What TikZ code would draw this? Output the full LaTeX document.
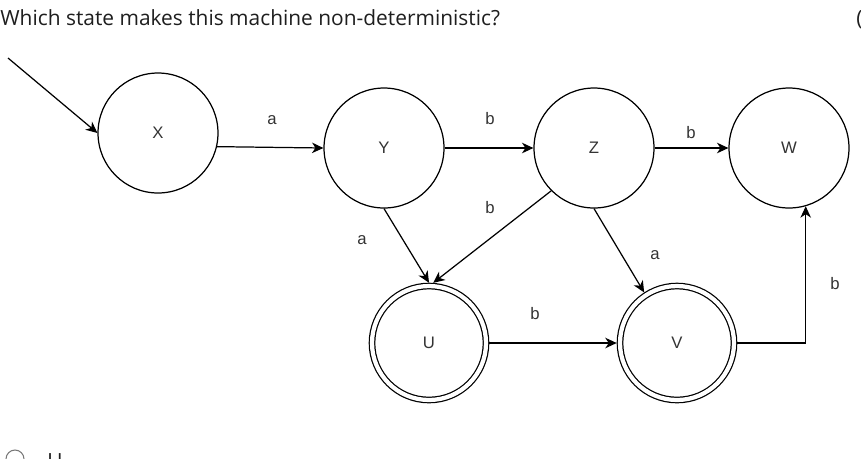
\documentclass[tikz,border=0pt]{standalone}
\usepackage{fontspec}
\setmainfont{Open Sans}
\newfontfamily\diagfont{Liberation Sans}
\usetikzlibrary{arrows.meta}
\definecolor{inkgray}{HTML}{333333}
\definecolor{radiogray}{HTML}{777777}
\definecolor{textblack}{HTML}{1E1E1E}
\begin{document}
\begin{tikzpicture}[x=0.02cm, y=-0.02cm,
  statenode/.style={draw, circle, line width=0.7pt, minimum size=2.4cm, inner sep=0pt,
    font=\diagfont\fontsize{9.5}{10}\selectfont, text=inkgray},
  acceptnode/.style={statenode, double, double distance=2.4pt, minimum size=2.28cm, outer sep=1.9pt},
  transition/.style={-{Stealth[length=6.5pt, width=6pt, inset=2pt]}, line width=0.7pt},
  lbl/.style={font=\diagfont\fontsize{9.5}{10}\selectfont, text=inkgray, inner sep=0pt},
  pagetext/.style={inner sep=0pt, font=\fontsize{11.9}{13}\selectfont, text=textblack}]
\useasboundingbox (0,0) rectangle (861,458);
\clip (0,0) rectangle (861,458);
\node[pagetext, anchor=base west] (question) at (0,25) {Which state makes this machine non-deterministic?};
\node[pagetext, anchor=base west] (points) at (856,25) {(};
\node[draw=radiogray, circle, line width=0.6pt, inner sep=0pt, minimum size=0.36cm] (radio) at (15,459) {};
\node[pagetext, anchor=north west] (answer) at (47,453) {U};
% states
\node[statenode] (X) at (158,133) {X};
\node[statenode] (Y) at (384,148) {Y};
\node[statenode] (Z) at (594,148) {Z};
\node[statenode] (W) at (789,148) {W};
\node[acceptnode] (U) at (429,343) {U};
\node[acceptnode] (V) at (677,343) {V};
\coordinate (start) at (8,58);
% transitions
\draw[transition] (start) -- (X.west);
\draw[transition] (X.-13.5) -- (Y.west);
\draw[transition] (Y.east) -- (Z.west);
\draw[transition] (Z.east) -- (W.west);
\draw[transition] (Y.south) -- (U.north);
\draw[transition] (Z.south west) -- (U.86);
\draw[transition] (Z.south) -- (V.123);
\draw[transition] (U.east) -- (V.west);
\draw[transition] (V.east) -| (W.-74.5);
% labels
\node[lbl] (a-xy) at (272,120) {a};
\node[lbl] (b-yz) at (490,119) {b};
\node[lbl] (b-zw) at (691,133) {b};
\node[lbl] (a-yu) at (362,240) {a};
\node[lbl] (b-zu) at (490,208) {b};
\node[lbl] (a-zv) at (655,255) {a};
\node[lbl] (b-uv) at (535,314) {b};
\node[lbl] (b-vw) at (835,284) {b};
\end{tikzpicture}
\end{document}
